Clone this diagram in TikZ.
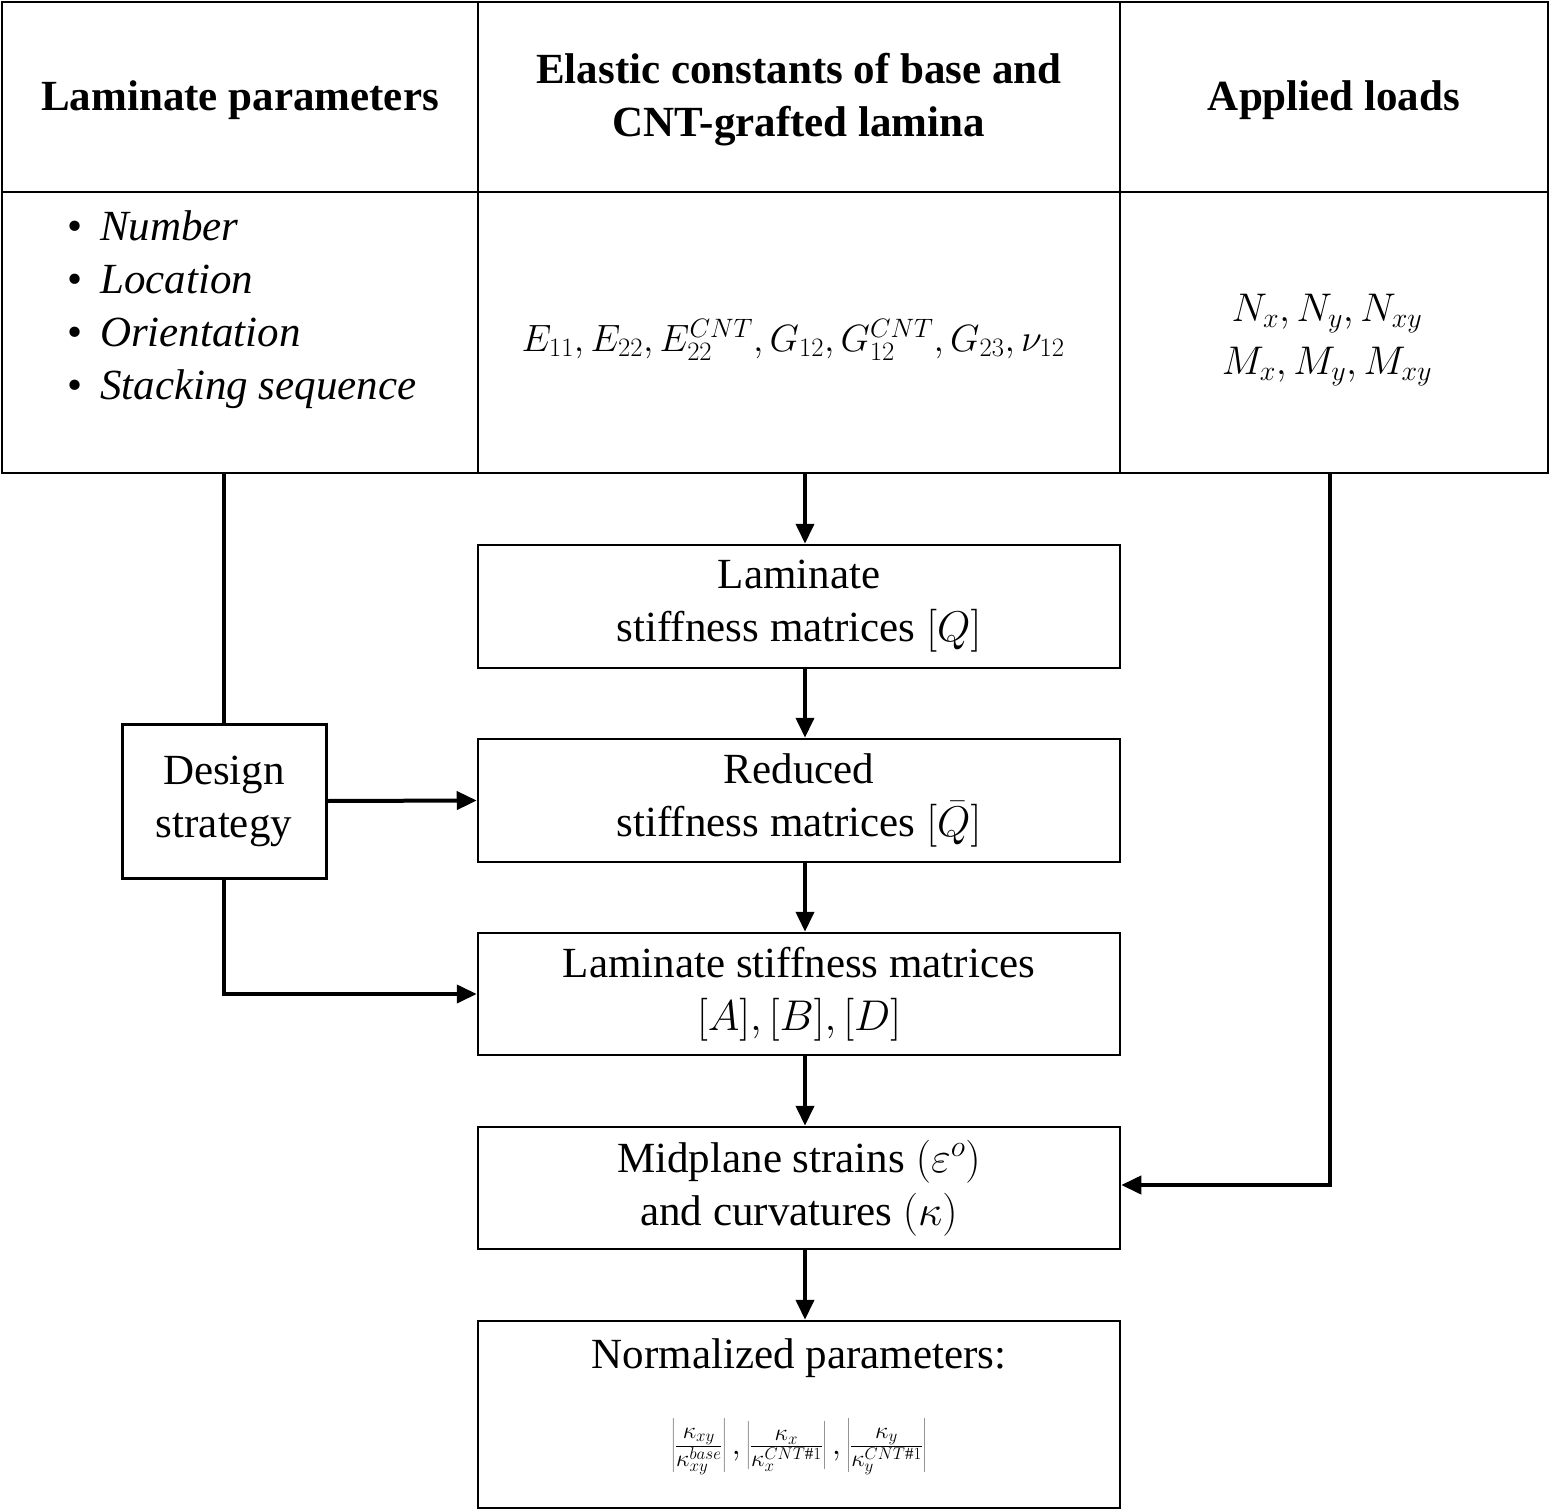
\RequirePackage{fix-cm}
\documentclass[tikz,border=0pt]{standalone}
\usepackage{fontspec}
\setmainfont{Liberation Serif}
\usetikzlibrary{arrows.meta}
\begin{document}
\begin{tikzpicture}[x=1pt,y=-1pt,
  line width=3.5pt,
  box/.style={draw,line width=2.5pt,inner sep=0pt},
  txt/.style={align=center,font=\fontsize{43}{53}\selectfont},
  arr/.style={-{Triangle[length=20pt,width=18pt]},line width=4pt}]
\useasboundingbox (0,0) rectangle (1550,1511);
% top table
\draw[line width=2.5pt] (2,2) rectangle (1548,473) (478,2)--(478,473) (1120,2)--(1120,473) (2,192)--(1548,192);
\node[txt,font=\fontsize{43}{53}\selectfont\bfseries] (h1) at (240,100) {Laminate parameters};
\node[txt,font=\fontsize{43}{53}\selectfont\bfseries] (h2) at (799,100) {Elastic constants of base and\\CNT-grafted lamina};
\node[txt,font=\fontsize{43}{53}\selectfont\bfseries] (h3) at (1334,100) {Applied loads};
\node[txt,align=left,anchor=west,font=\fontsize{43}{53}\selectfont] (lp) at (62,310) {\textbullet\hspace{18pt}\textit{Number}\\\textbullet\hspace{18pt}\textit{Location}\\\textbullet\hspace{18pt}\textit{Orientation}\\\textbullet\hspace{18pt}\textit{Stacking sequence}};
\node[txt,font=\fontsize{38}{53}\selectfont] (ec) at (793,340) {$E_{11}, E_{22}, E_{22}^{CNT}, G_{12}, G_{12}^{CNT}, G_{23}, \nu_{12}$};
\node[txt,font=\fontsize{40}{53}\selectfont] (al) at (1327,340) {$N_x, N_y, N_{xy}$\\$M_x, M_y, M_{xy}$};
\coordinate (t1) at (224,473); \coordinate (t2) at (805,473); \coordinate (t3) at (1330,473);
% boxes
\node[box,txt,minimum width=642pt,minimum height=123pt] (b1) at (799,606.5) {Laminate\\stiffness matrices $[Q]$};
\node[box,txt,minimum width=642pt,minimum height=123pt] (b2) at (799,800.5) {Reduced\\stiffness matrices $[\bar{Q}]$};
\node[box,txt,minimum width=642pt,minimum height=122pt] (b3) at (799,994) {Laminate stiffness matrices\\$[A], [B], [D]$};
\node[box,txt,minimum width=642pt,minimum height=122pt] (b4) at (799,1188) {Midplane strains $(\varepsilon^{o})$\\and curvatures $(\kappa)$};
\node[box,txt,minimum width=642pt,minimum height=187pt] (b5) at (799,1414.5) {};
\node[txt] (n1) at (799,1358) {Normalized parameters:};
\node[txt,font=\fontsize{34}{40}\selectfont] (n2) at (799,1447) {$\left|\frac{\kappa_{xy}}{\kappa_{xy}^{base}}\right|, \left|\frac{\kappa_{x}}{\kappa_{x}^{CNT\#1}}\right|, \left|\frac{\kappa_{y}}{\kappa_{y}^{CNT\#1}}\right|$};
\node[box,txt,line width=3pt,minimum width=204pt,minimum height=154pt] (ds) at (224,801) {Design\\strategy};
% connectors
\draw (t1) -- (ds.north);
\draw[arr] (ds.south) |- (b3.west);
\draw[arr] (ds.east) -- (b2.west);
\draw[arr] (t2) -- (b1.north -| t2);
\draw[arr] (b1.south -| t2) -- (b2.north -| t2);
\draw[arr] (b2.south -| t2) -- (b3.north -| t2);
\draw[arr] (b3.south -| t2) -- (b4.north -| t2);
\draw[arr] (b4.south -| t2) -- (b5.north -| t2);
\draw[arr] (t3) |- (b4.east |- 0,1185);
\end{tikzpicture}
\end{document}
